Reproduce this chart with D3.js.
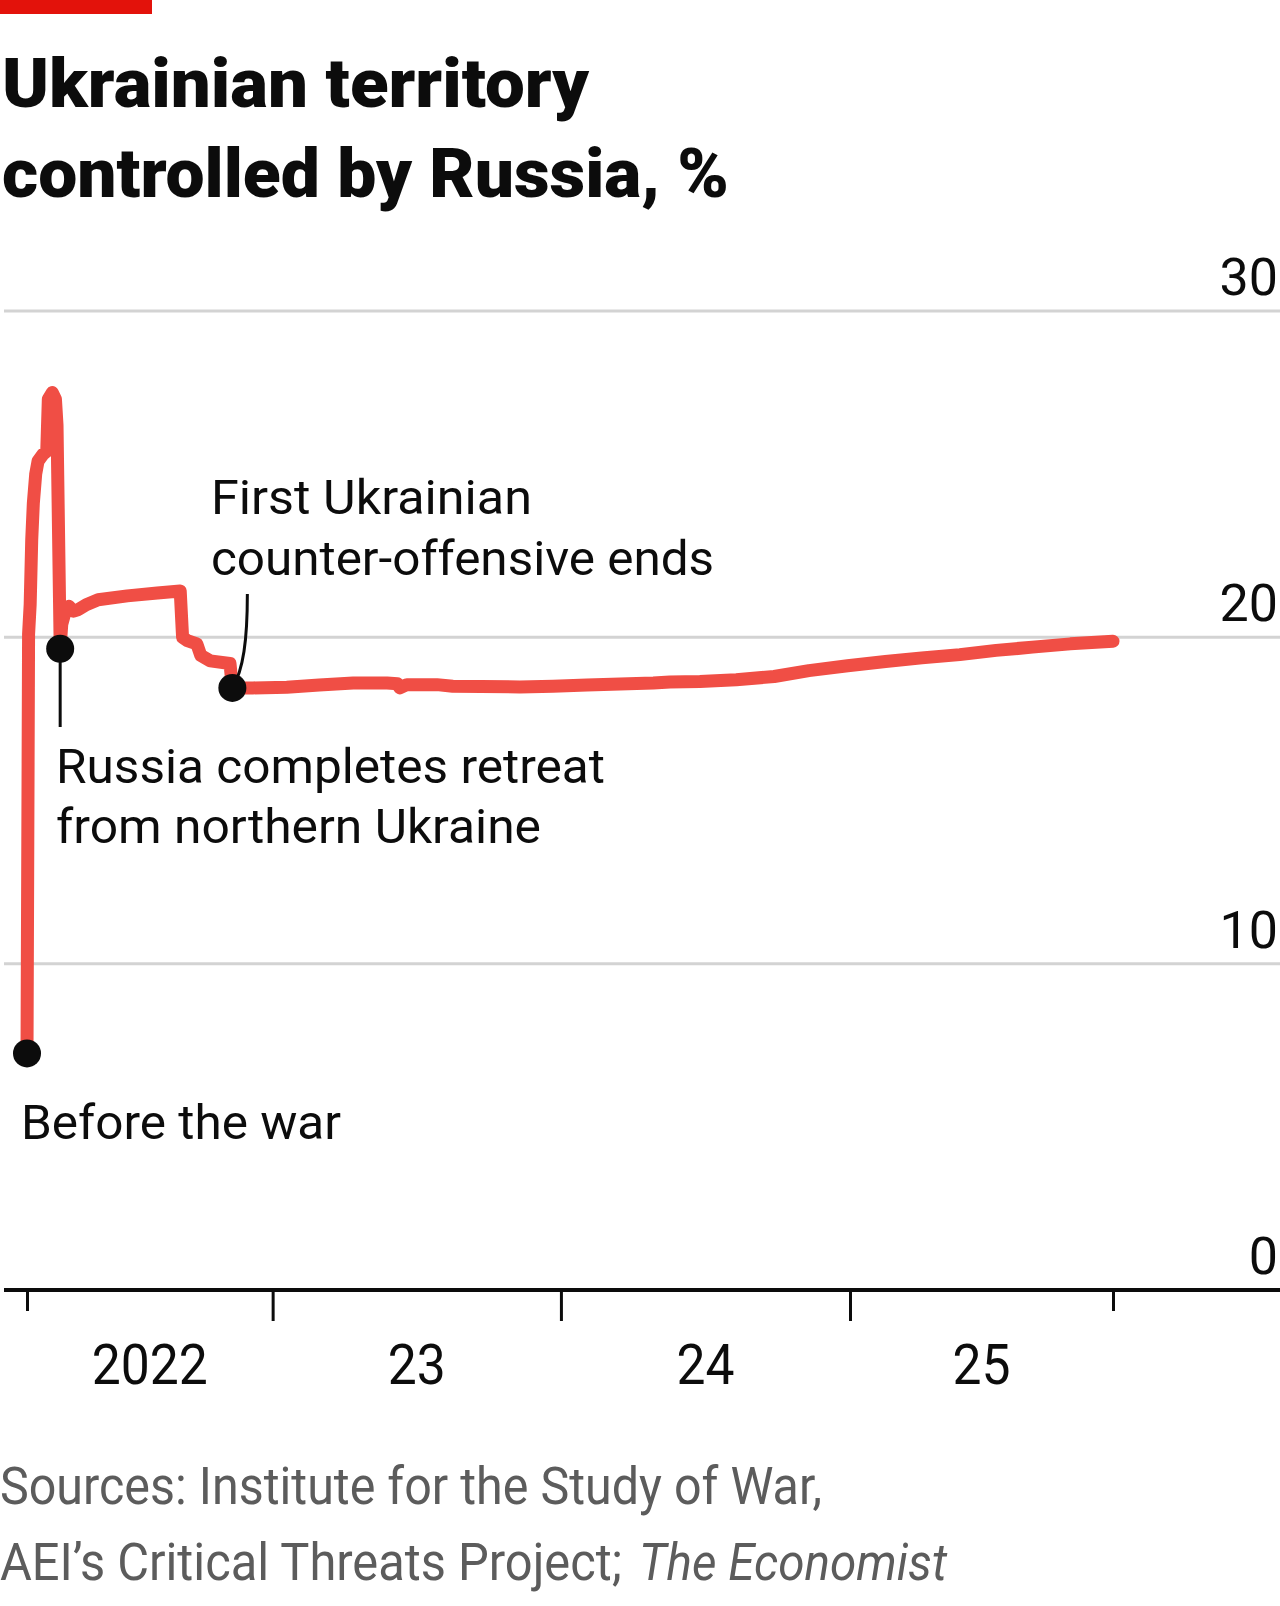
<!DOCTYPE html>
<html>
<head>
<meta charset="utf-8">
<script src="https://cdn.jsdelivr.net/npm/d3@7"></script>
<style>
    body { margin: 0; background: #fff; }
    svg { display: block; }
</style>
</head>
<body>
<svg id="grafico"></svg>
<script>
// Datos (% del territorio ucraniano controlado por Rusia)
var fechas = ["2022-02-24", "2022-02-26", "2022-02-28", "2022-03-02", "2022-03-04", "2022-03-07",
    "2022-03-10", "2022-03-16", "2022-03-21", "2022-03-23", "2022-03-28", "2022-04-01", "2022-04-03",
    "2022-04-07", "2022-04-09", "2022-04-13", "2022-04-18", "2022-04-24", "2022-04-30", "2022-05-10",
    "2022-05-25", "2022-07-01", "2022-08-08", "2022-09-06", "2022-09-09", "2022-09-15", "2022-09-27",
    "2022-10-02", "2022-10-14", "2022-11-08", "2022-11-11", "2022-12-07", "2023-01-19", "2023-03-01",
    "2023-04-13", "2023-05-26", "2023-06-08", "2023-06-11", "2023-06-20", "2023-07-28", "2023-08-17",
    "2023-11-10", "2023-12-22", "2024-02-03", "2024-03-16", "2024-04-27", "2024-05-18", "2024-06-25",
    "2024-08-10", "2024-09-27", "2024-11-10", "2024-12-29", "2025-02-15", "2025-04-02", "2025-05-20",
    "2025-07-05", "2025-08-20", "2025-10-07", "2025-11-30"];
var valores = [7.25, 20.1, 21.0, 23.0, 24.1, 25.0,
    25.4, 25.6, 25.7, 27.3, 27.5, 27.3, 26.5,
    19.7, 20.4, 20.75, 20.95, 20.8, 20.85, 21.0,
    21.15, 21.27, 21.36, 21.42, 20.0, 19.9, 19.8,
    19.45, 19.28, 19.2, 18.45, 18.45, 18.47, 18.54,
    18.6, 18.6, 18.58, 18.45, 18.55, 18.55, 18.5,
    18.48, 18.5, 18.54, 18.57, 18.6, 18.63, 18.65,
    18.7, 18.8, 18.98, 19.13, 19.26, 19.37, 19.47,
    19.6, 19.7, 19.8, 19.88];

// Marcas del eje x y etiquetas de los años
var fechasMarcas = ["2022-02-24", "2023-01-01", "2024-01-01", "2025-01-01", "2025-11-30"];
var etiquetasAnios = ["2022", "23", "24", "25"];
var valoresRejilla = [0, 10, 20, 30];

// Puntos anotados
var fechasAnotacion = ["2022-02-24", "2022-04-07", "2022-11-11"];
var valoresAnotacion = [7.25, 19.65, 18.45];

var anchura = 1280,
    altura = 1606;

var parse = d3.timeParse("%Y-%m-%d");
var datos = fechas.map(function (f, i) { return { fecha: parse(f), valor: valores[i] }; });

var svg = d3.select("#grafico")
    .attr("width", anchura)
    .attr("height", altura);

var x = d3.scaleTime()
    .domain([parse(fechasMarcas[0]), parse(fechasMarcas[fechasMarcas.length - 1])])
    .range([27, 1113]);
var y = d3.scaleLinear()
    .domain([0, 30])
    .range([1290, 311]);

var fuente = "Roboto, 'Noto Sans', sans-serif";

//Barra roja de arriba
svg.append("rect")
    .attr("x", 0).attr("y", 0)
    .attr("width", 152).attr("height", 14)
    .attr("fill", "#e3120b");

//Titulo
var titulo = [
    { texto: "Ukrainian territory", y: 107, largo: 587 },
    { texto: "controlled by Russia, %", y: 197, largo: 727 }
];
svg.selectAll(".titulo")
    .data(titulo)
    .join("text")
    .attr("class", "titulo")
    .attr("x", 2)
    .attr("y", function (d) { return d.y; })
    .attr("textLength", function (d) { return d.largo; })
    .attr("lengthAdjust", "spacingAndGlyphs")
    .style("font", "900 69px " + fuente)
    .style("fill", "#0c0c0c")
    .text(function (d) { return d.texto; });

//Lineas de rejilla
svg.selectAll(".rejilla")
    .data(valoresRejilla.filter(function (v) { return v > 0; }))
    .join("line")
    .attr("class", "rejilla")
    .attr("x1", 4).attr("x2", anchura)
    .attr("y1", function (d) { return y(d); })
    .attr("y2", function (d) { return y(d); })
    .style("stroke", "#d3d3d3")
    .style("stroke-width", 3);

//Etiquetas del eje y
svg.selectAll(".etiquetaY")
    .data(valoresRejilla)
    .join("text")
    .attr("class", "etiquetaY")
    .attr("x", 1278)
    .attr("y", function (d) { return y(d) - 16; })
    .attr("text-anchor", "end")
    .style("font", "400 52px " + fuente)
    .style("fill", "#0c0c0c")
    .text(function (d) { return d; });

//Eje x con marcas
var eje = d3.axisBottom(x)
    .tickValues(fechasMarcas.map(parse))
    .tickSize(31)
    .tickFormat("");
var gEje = svg.append("g")
    .attr("transform", "translate(0," + y(0) + ")")
    .call(eje);
gEje.select(".domain").remove();
gEje.selectAll(".tick line")
    .style("stroke", "#0c0c0c")
    .style("stroke-width", 3)
    .attr("y2", function (d, i) { return (i === 0 || i === fechasMarcas.length - 1) ? 21 : 31; });
svg.append("line")
    .attr("x1", 4).attr("x2", anchura)
    .attr("y1", y(0)).attr("y2", y(0))
    .style("stroke", "#0c0c0c")
    .style("stroke-width", 4);

//Años centrados entre marcas
svg.selectAll(".etiquetaX")
    .data(etiquetasAnios)
    .join("text")
    .attr("class", "etiquetaX")
    .attr("x", function (d, i) { return (x(parse(fechasMarcas[i])) + x(parse(fechasMarcas[i + 1]))) / 2; })
    .attr("y", 1384)
    .attr("text-anchor", "middle")
    .attr("textLength", function (d) { return d.length === 4 ? 116 : 58; })
    .attr("lengthAdjust", "spacingAndGlyphs")
    .style("font", "400 55px " + fuente)
    .style("fill", "#0c0c0c")
    .text(function (d) { return d; });

//Linea de datos
var linea = d3.line()
    .x(function (d) { return x(d.fecha); })
    .y(function (d) { return y(d.valor); });
svg.append("path")
    .datum(datos)
    .attr("d", linea)
    .style("fill", "none")
    .style("stroke", "#f04e45")
    .style("stroke-width", 13)
    .style("stroke-linejoin", "round")
    .style("stroke-linecap", "round");

//Lineas guia de las anotaciones
var p1 = [x(parse(fechasAnotacion[1])), y(valoresAnotacion[1])];
var p2 = [x(parse(fechasAnotacion[2])), y(valoresAnotacion[2])];
svg.append("line")
    .attr("x1", p1[0]).attr("x2", p1[0])
    .attr("y1", p1[1]).attr("y2", 727)
    .style("stroke", "#0c0c0c")
    .style("stroke-width", 3);
svg.append("path")
    .attr("d", "M" + (p2[0] + 15) + ",594 C" + (p2[0] + 15) + ",640 " + (p2[0] + 11) + ",670 " + p2[0] + "," + p2[1])
    .style("fill", "none")
    .style("stroke", "#0c0c0c")
    .style("stroke-width", 3);

//Puntos
svg.selectAll(".punto")
    .data(fechasAnotacion)
    .join("circle")
    .attr("class", "punto")
    .attr("cx", function (d) { return x(parse(d)); })
    .attr("cy", function (d, i) { return y(valoresAnotacion[i]); })
    .attr("r", 14)
    .style("fill", "#0c0c0c");

//Textos de las anotaciones
var textos = [
    { texto: "First Ukrainian", x: 211, y: 514, largo: 321 },
    { texto: "counter-offensive ends", x: 211, y: 575, largo: 503 },
    { texto: "Russia completes retreat", x: 56, y: 783, largo: 549 },
    { texto: "from northern Ukraine", x: 56, y: 843, largo: 485 },
    { texto: "Before the war", x: 21, y: 1139, largo: 320 }
];
svg.selectAll(".anotacion")
    .data(textos)
    .join("text")
    .attr("class", "anotacion")
    .attr("x", function (d) { return d.x; })
    .attr("y", function (d) { return d.y; })
    .attr("textLength", function (d) { return d.largo; })
    .attr("lengthAdjust", "spacingAndGlyphs")
    .style("font", "400 48px " + fuente)
    .style("fill", "#0c0c0c")
    .text(function (d) { return d.texto; });

//Fuentes
var fuentes = [
    { texto: "Sources: Institute for the Study of War,", x: 0, y: 1504, largo: 822, estilo: "normal" },
    { texto: "AEI\u2019s Critical Threats Project;", x: 0, y: 1580, largo: 622, estilo: "normal" },
    { texto: "The Economist", x: 639, y: 1580, largo: 308, estilo: "italic" }
];
svg.selectAll(".fuente")
    .data(fuentes)
    .join("text")
    .attr("class", "fuente")
    .attr("x", function (d) { return d.x; })
    .attr("y", function (d) { return d.y; })
    .attr("textLength", function (d) { return d.largo; })
    .attr("lengthAdjust", "spacingAndGlyphs")
    .style("font", function (d) { return d.estilo + " 400 51px " + fuente; })
    .style("fill", "#5c5c5c")
    .text(function (d) { return d.texto; });
</script>
</body>
</html>
